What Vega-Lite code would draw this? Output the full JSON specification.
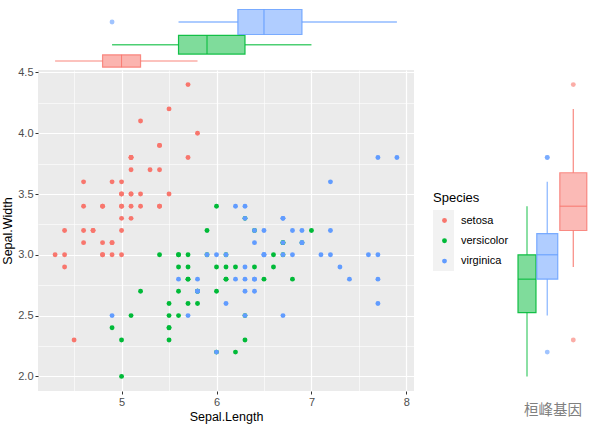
{
  "$schema": "https://vega.github.io/schema/vega-lite/v6.json",
  "padding": {"left": 1, "top": 8, "right": 0, "bottom": 16},
  "background": "white",
  "config": {
    "font": "Liberation Sans",
    "view": {"stroke": null},
    "axis": {"labelFont": "Liberation Sans", "titleFont": "Liberation Sans"}
  },
  "datasets": {
    "iris": [
      {"Species":"setosa","SepalLength":5.1,"SepalWidth":3.5},{"Species":"setosa","SepalLength":4.9,"SepalWidth":3.0},{"Species":"setosa","SepalLength":4.7,"SepalWidth":3.2},{"Species":"setosa","SepalLength":4.6,"SepalWidth":3.1},{"Species":"setosa","SepalLength":5.0,"SepalWidth":3.6},
      {"Species":"setosa","SepalLength":5.4,"SepalWidth":3.9},{"Species":"setosa","SepalLength":4.6,"SepalWidth":3.4},{"Species":"setosa","SepalLength":5.0,"SepalWidth":3.4},{"Species":"setosa","SepalLength":4.4,"SepalWidth":2.9},{"Species":"setosa","SepalLength":4.9,"SepalWidth":3.1},
      {"Species":"setosa","SepalLength":5.4,"SepalWidth":3.7},{"Species":"setosa","SepalLength":4.8,"SepalWidth":3.4},{"Species":"setosa","SepalLength":4.8,"SepalWidth":3.0},{"Species":"setosa","SepalLength":4.3,"SepalWidth":3.0},{"Species":"setosa","SepalLength":5.8,"SepalWidth":4.0},
      {"Species":"setosa","SepalLength":5.7,"SepalWidth":4.4},{"Species":"setosa","SepalLength":5.4,"SepalWidth":3.9},{"Species":"setosa","SepalLength":5.1,"SepalWidth":3.5},{"Species":"setosa","SepalLength":5.7,"SepalWidth":3.8},{"Species":"setosa","SepalLength":5.1,"SepalWidth":3.8},
      {"Species":"setosa","SepalLength":5.4,"SepalWidth":3.4},{"Species":"setosa","SepalLength":5.1,"SepalWidth":3.7},{"Species":"setosa","SepalLength":4.6,"SepalWidth":3.6},{"Species":"setosa","SepalLength":5.1,"SepalWidth":3.3},{"Species":"setosa","SepalLength":4.8,"SepalWidth":3.4},
      {"Species":"setosa","SepalLength":5.0,"SepalWidth":3.0},{"Species":"setosa","SepalLength":5.0,"SepalWidth":3.4},{"Species":"setosa","SepalLength":5.2,"SepalWidth":3.5},{"Species":"setosa","SepalLength":5.2,"SepalWidth":3.4},{"Species":"setosa","SepalLength":4.7,"SepalWidth":3.2},
      {"Species":"setosa","SepalLength":4.8,"SepalWidth":3.1},{"Species":"setosa","SepalLength":5.4,"SepalWidth":3.4},{"Species":"setosa","SepalLength":5.2,"SepalWidth":4.1},{"Species":"setosa","SepalLength":5.5,"SepalWidth":4.2},{"Species":"setosa","SepalLength":4.9,"SepalWidth":3.1},
      {"Species":"setosa","SepalLength":5.0,"SepalWidth":3.2},{"Species":"setosa","SepalLength":5.5,"SepalWidth":3.5},{"Species":"setosa","SepalLength":4.9,"SepalWidth":3.6},{"Species":"setosa","SepalLength":4.4,"SepalWidth":3.0},{"Species":"setosa","SepalLength":5.1,"SepalWidth":3.4},
      {"Species":"setosa","SepalLength":5.0,"SepalWidth":3.5},{"Species":"setosa","SepalLength":4.5,"SepalWidth":2.3},{"Species":"setosa","SepalLength":4.4,"SepalWidth":3.2},{"Species":"setosa","SepalLength":5.0,"SepalWidth":3.5},{"Species":"setosa","SepalLength":5.1,"SepalWidth":3.8},
      {"Species":"setosa","SepalLength":4.8,"SepalWidth":3.0},{"Species":"setosa","SepalLength":5.1,"SepalWidth":3.8},{"Species":"setosa","SepalLength":4.6,"SepalWidth":3.2},{"Species":"setosa","SepalLength":5.3,"SepalWidth":3.7},{"Species":"setosa","SepalLength":5.0,"SepalWidth":3.3},
      {"Species":"versicolor","SepalLength":7.0,"SepalWidth":3.2},{"Species":"versicolor","SepalLength":6.4,"SepalWidth":3.2},{"Species":"versicolor","SepalLength":6.9,"SepalWidth":3.1},{"Species":"versicolor","SepalLength":5.5,"SepalWidth":2.3},{"Species":"versicolor","SepalLength":6.5,"SepalWidth":2.8},
      {"Species":"versicolor","SepalLength":5.7,"SepalWidth":2.8},{"Species":"versicolor","SepalLength":6.3,"SepalWidth":3.3},{"Species":"versicolor","SepalLength":4.9,"SepalWidth":2.4},{"Species":"versicolor","SepalLength":6.6,"SepalWidth":2.9},{"Species":"versicolor","SepalLength":5.2,"SepalWidth":2.7},
      {"Species":"versicolor","SepalLength":5.0,"SepalWidth":2.0},{"Species":"versicolor","SepalLength":5.9,"SepalWidth":3.0},{"Species":"versicolor","SepalLength":6.0,"SepalWidth":2.2},{"Species":"versicolor","SepalLength":6.1,"SepalWidth":2.9},{"Species":"versicolor","SepalLength":5.6,"SepalWidth":2.9},
      {"Species":"versicolor","SepalLength":6.7,"SepalWidth":3.1},{"Species":"versicolor","SepalLength":5.6,"SepalWidth":3.0},{"Species":"versicolor","SepalLength":5.8,"SepalWidth":2.7},{"Species":"versicolor","SepalLength":6.2,"SepalWidth":2.2},{"Species":"versicolor","SepalLength":5.6,"SepalWidth":2.5},
      {"Species":"versicolor","SepalLength":5.9,"SepalWidth":3.2},{"Species":"versicolor","SepalLength":6.1,"SepalWidth":2.8},{"Species":"versicolor","SepalLength":6.3,"SepalWidth":2.5},{"Species":"versicolor","SepalLength":6.1,"SepalWidth":2.8},{"Species":"versicolor","SepalLength":6.4,"SepalWidth":2.9},
      {"Species":"versicolor","SepalLength":6.6,"SepalWidth":3.0},{"Species":"versicolor","SepalLength":6.8,"SepalWidth":2.8},{"Species":"versicolor","SepalLength":6.7,"SepalWidth":3.0},{"Species":"versicolor","SepalLength":6.0,"SepalWidth":2.9},{"Species":"versicolor","SepalLength":5.7,"SepalWidth":2.6},
      {"Species":"versicolor","SepalLength":5.5,"SepalWidth":2.4},{"Species":"versicolor","SepalLength":5.5,"SepalWidth":2.4},{"Species":"versicolor","SepalLength":5.8,"SepalWidth":2.7},{"Species":"versicolor","SepalLength":6.0,"SepalWidth":2.7},{"Species":"versicolor","SepalLength":5.4,"SepalWidth":3.0},
      {"Species":"versicolor","SepalLength":6.0,"SepalWidth":3.4},{"Species":"versicolor","SepalLength":6.7,"SepalWidth":3.1},{"Species":"versicolor","SepalLength":6.3,"SepalWidth":2.3},{"Species":"versicolor","SepalLength":5.6,"SepalWidth":3.0},{"Species":"versicolor","SepalLength":5.5,"SepalWidth":2.5},
      {"Species":"versicolor","SepalLength":5.5,"SepalWidth":2.6},{"Species":"versicolor","SepalLength":6.1,"SepalWidth":3.0},{"Species":"versicolor","SepalLength":5.8,"SepalWidth":2.6},{"Species":"versicolor","SepalLength":5.0,"SepalWidth":2.3},{"Species":"versicolor","SepalLength":5.6,"SepalWidth":2.7},
      {"Species":"versicolor","SepalLength":5.7,"SepalWidth":3.0},{"Species":"versicolor","SepalLength":5.7,"SepalWidth":2.9},{"Species":"versicolor","SepalLength":6.2,"SepalWidth":2.9},{"Species":"versicolor","SepalLength":5.1,"SepalWidth":2.5},{"Species":"versicolor","SepalLength":5.7,"SepalWidth":2.8},
      {"Species":"virginica","SepalLength":6.3,"SepalWidth":3.3},{"Species":"virginica","SepalLength":5.8,"SepalWidth":2.7},{"Species":"virginica","SepalLength":7.1,"SepalWidth":3.0},{"Species":"virginica","SepalLength":6.3,"SepalWidth":2.9},{"Species":"virginica","SepalLength":6.5,"SepalWidth":3.0},
      {"Species":"virginica","SepalLength":7.6,"SepalWidth":3.0},{"Species":"virginica","SepalLength":4.9,"SepalWidth":2.5},{"Species":"virginica","SepalLength":7.3,"SepalWidth":2.9},{"Species":"virginica","SepalLength":6.7,"SepalWidth":2.5},{"Species":"virginica","SepalLength":7.2,"SepalWidth":3.6},
      {"Species":"virginica","SepalLength":6.5,"SepalWidth":3.2},{"Species":"virginica","SepalLength":6.4,"SepalWidth":2.7},{"Species":"virginica","SepalLength":6.8,"SepalWidth":3.0},{"Species":"virginica","SepalLength":5.7,"SepalWidth":2.5},{"Species":"virginica","SepalLength":5.8,"SepalWidth":2.8},
      {"Species":"virginica","SepalLength":6.4,"SepalWidth":3.2},{"Species":"virginica","SepalLength":6.5,"SepalWidth":3.0},{"Species":"virginica","SepalLength":7.7,"SepalWidth":3.8},{"Species":"virginica","SepalLength":7.7,"SepalWidth":2.6},{"Species":"virginica","SepalLength":6.0,"SepalWidth":2.2},
      {"Species":"virginica","SepalLength":6.9,"SepalWidth":3.2},{"Species":"virginica","SepalLength":5.6,"SepalWidth":2.8},{"Species":"virginica","SepalLength":7.7,"SepalWidth":2.8},{"Species":"virginica","SepalLength":6.3,"SepalWidth":2.7},{"Species":"virginica","SepalLength":6.7,"SepalWidth":3.3},
      {"Species":"virginica","SepalLength":7.2,"SepalWidth":3.2},{"Species":"virginica","SepalLength":6.2,"SepalWidth":2.8},{"Species":"virginica","SepalLength":6.1,"SepalWidth":3.0},{"Species":"virginica","SepalLength":6.4,"SepalWidth":2.8},{"Species":"virginica","SepalLength":7.2,"SepalWidth":3.0},
      {"Species":"virginica","SepalLength":7.4,"SepalWidth":2.8},{"Species":"virginica","SepalLength":7.9,"SepalWidth":3.8},{"Species":"virginica","SepalLength":6.4,"SepalWidth":2.8},{"Species":"virginica","SepalLength":6.3,"SepalWidth":2.8},{"Species":"virginica","SepalLength":6.1,"SepalWidth":2.6},
      {"Species":"virginica","SepalLength":7.7,"SepalWidth":3.0},{"Species":"virginica","SepalLength":6.3,"SepalWidth":3.4},{"Species":"virginica","SepalLength":6.4,"SepalWidth":3.1},{"Species":"virginica","SepalLength":6.0,"SepalWidth":3.0},{"Species":"virginica","SepalLength":6.9,"SepalWidth":3.1},
      {"Species":"virginica","SepalLength":6.7,"SepalWidth":3.1},{"Species":"virginica","SepalLength":6.9,"SepalWidth":3.1},{"Species":"virginica","SepalLength":5.8,"SepalWidth":2.7},{"Species":"virginica","SepalLength":6.8,"SepalWidth":3.2},{"Species":"virginica","SepalLength":6.7,"SepalWidth":3.3},
      {"Species":"virginica","SepalLength":6.7,"SepalWidth":3.0},{"Species":"virginica","SepalLength":6.3,"SepalWidth":2.5},{"Species":"virginica","SepalLength":6.5,"SepalWidth":3.0},{"Species":"virginica","SepalLength":6.2,"SepalWidth":3.4},{"Species":"virginica","SepalLength":5.9,"SepalWidth":3.0}
    ]
  },
  "bounds": "flush",
  "spacing": 0,
  "vconcat": [
    {
      "width": 376,
      "height": 62,
      "data": {"name": "iris"},
      "encoding": {
        "x": {"field": "SepalLength", "type": "quantitative", "axis": null, "scale": {"domain": [4.12, 8.08], "nice": false, "zero": false}},
        "y": {
          "field": "Species",
          "type": "nominal",
          "axis": null,
          "scale": {
            "type": "point",
            "padding": 0,
            "range": [53, 14],
            "domain": ["setosa", "a1", "a2", "a3", "a4", "versicolor", "b1", "b2", "b3", "b4", "b5", "b6", "virginica"]
          }
        },
        "color": {"field": "Species", "type": "nominal"}
      },
      "layer": [
        {
          "transform": [{"filter": "datum.Species === 'setosa'"}],
          "mark": {
            "type": "boxplot", "extent": 1.5, "size": 12.3, "ticks": false, "opacity": 1,
            "box": {"fillOpacity": 0.55, "stroke": "#F8766D", "strokeOpacity": 0.8, "strokeWidth": 1.2},
            "median": {"color": "#F8766D", "strokeWidth": 1.8, "opacity": 0.9},
            "rule": {"color": "#F8766D", "opacity": 0.6, "strokeWidth": 1.3},
            "outliers": {"color": "#F8766D", "size": 24, "filled": true, "opacity": 0.6}
          }
        },
        {
          "transform": [{"filter": "datum.Species === 'versicolor'"}],
          "mark": {
            "type": "boxplot", "extent": 1.5, "size": 18.7, "ticks": false, "opacity": 1,
            "box": {"fillOpacity": 0.5, "stroke": "#00BA38", "strokeOpacity": 0.9, "strokeWidth": 1.2},
            "median": {"color": "#00BA38", "strokeWidth": 1.8},
            "rule": {"color": "#00BA38", "opacity": 0.7, "strokeWidth": 1.3},
            "outliers": {"color": "#00BA38", "size": 24, "filled": true, "opacity": 0.6}
          }
        },
        {
          "transform": [{"filter": "datum.Species === 'virginica'"}],
          "mark": {
            "type": "boxplot", "extent": 1.5, "size": 25, "ticks": false, "opacity": 1,
            "box": {"fillOpacity": 0.5, "stroke": "#619CFF", "strokeOpacity": 0.8, "strokeWidth": 1.2},
            "median": {"color": "#619CFF", "strokeWidth": 1.8},
            "rule": {"color": "#619CFF", "opacity": 0.7, "strokeWidth": 1.3},
            "outliers": {"color": "#619CFF", "size": 24, "filled": true, "opacity": 0.6}
          }
        }
      ]
    },
    {
      "bounds": "flush",
      "spacing": 19,
      "hconcat": [
        {
          "width": 376,
          "height": 321,
          "view": {"fill": "#EBEBEB", "stroke": null},
          "data": {"name": "iris"},
          "mark": {"type": "point", "filled": true, "opacity": 1, "size": 24},
          "encoding": {
            "x": {
              "field": "SepalLength",
              "type": "quantitative",
              "title": "Sepal.Length",
              "scale": {"domain": [4.12, 8.08], "nice": false, "zero": false},
              "axis": {
                "values": [4.5, 5, 5.5, 6, 6.5, 7, 7.5, 8],
                "labelExpr": "floor(datum.value) === datum.value ? format(datum.value, 'd') : ''",
                "labelOverlap": false,
                "labelFontSize": 11,
                "labelColor": "#4D4D4D",
                "labelPadding": 2,
                "domain": false,
                "grid": true,
                "gridColor": "#FFFFFF",
                "gridOpacity": 1,
                "gridWidth": {"condition": {"test": "floor(datum.value) === datum.value", "value": 1.2}, "value": 0.6},
                "tickColor": "#333333",
                "tickSize": 3,
                "tickOpacity": {"condition": {"test": "floor(datum.value) === datum.value", "value": 1}, "value": 0},
                "titleFontSize": 12.5,
                "titleFontWeight": "normal",
                "titleColor": "#000000",
                "titlePadding": 3
              }
            },
            "y": {
              "field": "SepalWidth",
              "type": "quantitative",
              "title": "Sepal.Width",
              "scale": {"domain": [1.88, 4.52], "nice": false, "zero": false},
              "axis": {
                "values": [2, 2.25, 2.5, 2.75, 3, 3.25, 3.5, 3.75, 4, 4.25, 4.5],
                "format": ".1f",
                "labelExpr": "(datum.value * 2) % 1 === 0 ? datum.label : ''",
                "labelOverlap": false,
                "labelFontSize": 11,
                "labelColor": "#4D4D4D",
                "labelPadding": 2,
                "domain": false,
                "grid": true,
                "gridColor": "#FFFFFF",
                "gridOpacity": 1,
                "gridWidth": {"condition": {"test": "(datum.value * 2) % 1 === 0", "value": 1.2}, "value": 0.6},
                "tickColor": "#333333",
                "tickSize": 3,
                "tickOpacity": {"condition": {"test": "(datum.value * 2) % 1 === 0", "value": 1}, "value": 0},
                "titleFontSize": 12.5,
                "titleFontWeight": "normal",
                "titleColor": "#000000",
                "titlePadding": 3
              }
            },
            "color": {
              "field": "Species",
              "type": "nominal",
              "scale": {"domain": ["setosa", "versicolor", "virginica"], "range": ["#F8766D", "#00BA38", "#619CFF"]},
              "legend": {
                "orient": "none",
                "legendX": 395,
                "legendY": 184,
                "zindex": 1,
                "title": "Species",
                "titleFontSize": 13,
                "titleFontWeight": "normal",
                "titleColor": "#000000",
                "titlePadding": 10,
                "labelFontSize": 11,
                "labelColor": "#000000",
                "labelOffset": 11,
                "symbolType": "circle",
                "symbolSize": 24,
                "symbolOffset": 6,
                "symbolStrokeWidth": 0,
                "rowPadding": 8.3,
                "encoding": {"symbols": {"update": {"fillOpacity": {"value": 1}, "opacity": {"value": 1}}}}
              }
            }
          }
        },
        {
          "bounds": "flush",
          "spacing": 0,
          "vconcat": [
            {
              "width": 21,
              "height": 140,
              "data": {"values": []},
              "mark": "rect"
            },
            {
              "width": 21,
              "height": 61,
              "data": {"values": [{}]},
              "mark": {"type": "rect", "color": "#F2F2F2"}
            }
          ]
        },
        {
          "width": 148,
          "height": 321,
          "title": {"text": "桓峰基因", "orient": "bottom", "anchor": "end", "font": "Noto Sans CJK SC", "fontSize": 14.5, "fontWeight": "normal", "color": "#808080", "offset": 13, "dx": -18},
          "data": {"name": "iris"},
          "encoding": {
            "y": {"field": "SepalWidth", "type": "quantitative", "axis": null, "scale": {"domain": [1.88, 4.52], "nice": false, "zero": false}},
            "x": {
              "field": "Species",
              "type": "nominal",
              "axis": null,
              "scale": {
                "type": "point",
                "padding": 0,
                "range": [75, 121.3],
                "domain": ["versicolor", "a1", "a2", "a3", "a4", "a5", "a6", "virginica", "b1", "b2", "b3", "b4", "b5", "b6", "b7", "b8", "setosa"]
              }
            },
            "color": {"field": "Species", "type": "nominal"}
          },
          "layer": [
            {
              "transform": [{"filter": "datum.Species === 'setosa'"}],
              "mark": {
                "type": "boxplot", "extent": 1.5, "size": 27, "ticks": false, "opacity": 1,
                "box": {"fillOpacity": 0.5, "stroke": "#F8766D", "strokeOpacity": 0.8, "strokeWidth": 1.2},
                "median": {"color": "#F8766D", "strokeWidth": 1.8},
                "rule": {"color": "#F8766D", "opacity": 0.8, "strokeWidth": 1.3},
                "outliers": {"color": "#F8766D", "size": 24, "filled": true, "opacity": 0.6}
              }
            },
            {
              "transform": [{"filter": "datum.Species === 'versicolor'"}],
              "mark": {
                "type": "boxplot", "extent": 1.5, "size": 18, "ticks": false, "opacity": 1,
                "box": {"fillOpacity": 0.5, "stroke": "#00BA38", "strokeOpacity": 0.9, "strokeWidth": 1.2},
                "median": {"color": "#00BA38", "strokeWidth": 1.8},
                "rule": {"color": "#00BA38", "opacity": 0.7, "strokeWidth": 1.3},
                "outliers": {"color": "#00BA38", "size": 24, "filled": true, "opacity": 0.6}
              }
            },
            {
              "transform": [{"filter": "datum.Species === 'virginica'"}],
              "mark": {
                "type": "boxplot", "extent": 1.5, "size": 21, "ticks": false, "opacity": 1,
                "box": {"fillOpacity": 0.5, "stroke": "#619CFF", "strokeOpacity": 0.8, "strokeWidth": 1.2},
                "median": {"color": "#619CFF", "strokeWidth": 1.8},
                "rule": {"color": "#619CFF", "opacity": 0.7, "strokeWidth": 1.3},
                "outliers": {"color": "#619CFF", "size": 24, "filled": true, "opacity": 0.6}
              }
            }
          ]
        }
      ]
    }
  ]
}
